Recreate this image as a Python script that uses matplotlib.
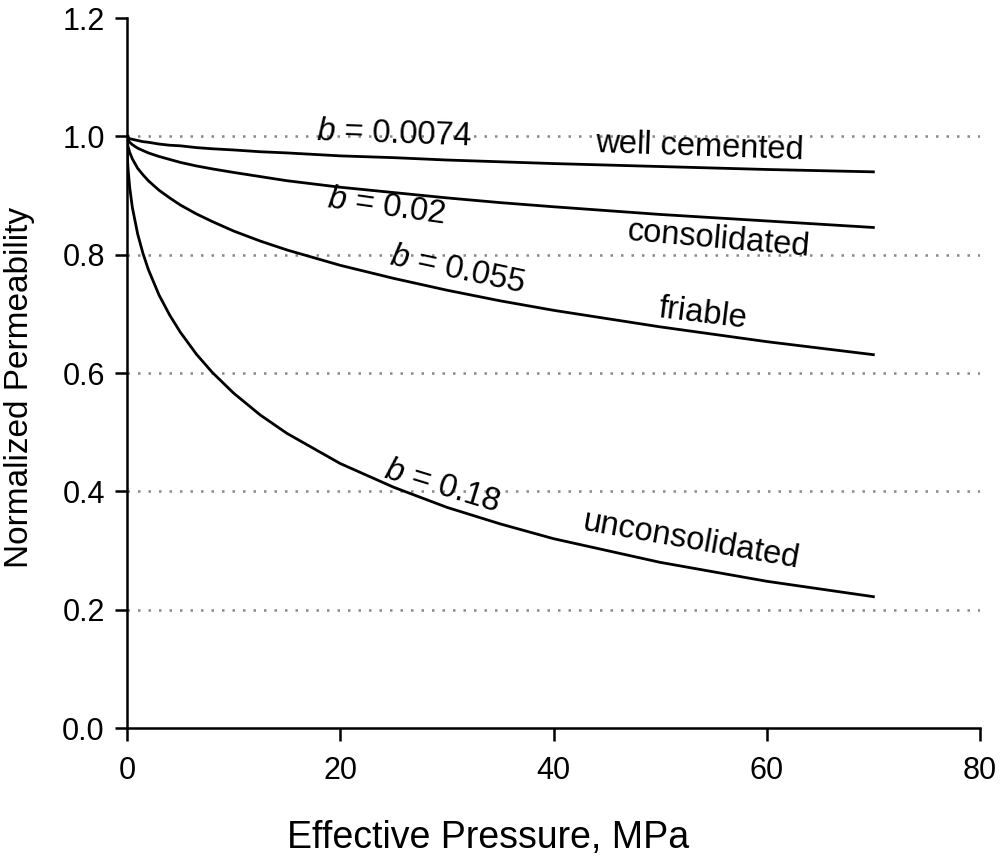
import matplotlib.pyplot as plt
import numpy as np

plt.rcParams['font.family'] = ['Liberation Sans', 'DejaVu Sans']

# effective pressure, MPa
pressure = [0, 0.05, 0.1, 0.25, 0.5, 1, 1.5, 2, 3, 4, 5, 6.5, 8, 10, 12.5,
            15, 20, 25, 30, 35, 40, 50, 60, 70]

# normalized permeability
well_cemented = [1.0, 0.998, 0.998, 0.996, 0.995, 0.993, 0.991, 0.990, 0.987,
                 0.985, 0.984, 0.981, 0.979, 0.977, 0.974, 0.972, 0.967, 0.964,
                 0.960, 0.957, 0.954, 0.949, 0.944, 0.940]
consolidated = [1.0, 0.996, 0.994, 0.990, 0.986, 0.980, 0.976, 0.972, 0.966,
                0.961, 0.956, 0.950, 0.945, 0.939, 0.932, 0.925, 0.914, 0.905,
                0.896, 0.888, 0.881, 0.868, 0.857, 0.846]
friable = [1.0, 0.988, 0.983, 0.973, 0.962, 0.946, 0.935, 0.925, 0.909, 0.896,
           0.884, 0.869, 0.856, 0.840, 0.823, 0.808, 0.782, 0.760, 0.740,
           0.722, 0.706, 0.678, 0.653, 0.631]
unconsolidated = [1.0, 0.960, 0.945, 0.914, 0.880, 0.835, 0.802, 0.775, 0.732,
                  0.698, 0.669, 0.632, 0.601, 0.566, 0.529, 0.498, 0.447, 0.407,
                  0.373, 0.345, 0.320, 0.280, 0.248, 0.222]

curves = [well_cemented, consolidated, friable, unconsolidated]

# (text, x, y, rotation)
labels = [
    ('$b$ = 0.0074', 25.1, 1.004, -2),
    ('well cemented', 53.7, 0.982, -2),
    ('$b$ = 0.02', 24.3, 0.880, -8),
    ('consolidated', 55.5, 0.825, -5),
    ('$b$ = 0.055', 31.0, 0.774, -12),
    ('friable', 54.0, 0.699, -7),
    ('$b$ = 0.18', 29.6, 0.408, -17),
    ('unconsolidated', 52.9, 0.317, -10),
]

xticks = [0, 20, 40, 60, 80]
yticks = [0.0, 0.2, 0.4, 0.6, 0.8, 1.0, 1.2]
grid_y = [0.2, 0.4, 0.6, 0.8, 1.0]

plt.rcParams['mathtext.fontset'] = 'custom'
plt.rcParams['mathtext.it'] = 'Liberation Sans:italic'
plt.rcParams['mathtext.rm'] = 'Liberation Sans'

fig = plt.figure(figsize=(10, 8.58), dpi=100)
ax = fig.add_axes([0.127, 0.1515, 0.853, 0.8275])

for y in grid_y:
    ax.axhline(y, color='#888888', lw=1.8, ls=(0, (1, 3.2)), zorder=1)

for vals in curves:
    ax.plot(pressure, vals, color='black', lw=2.0, zorder=3)

for text, x, y, rot in labels:
    ax.text(x, y, text, fontsize=23.5, ha='center', va='center',
            rotation=rot, rotation_mode='anchor', zorder=4)

ax.spines['top'].set_visible(False)
ax.spines['right'].set_visible(False)
ax.spines['left'].set_linewidth(1.8)
ax.spines['bottom'].set_linewidth(1.8)
ax.set_xlim(0, 80)
ax.set_ylim(0, 1.2)
ax.set_xticks(xticks)
ax.set_yticks(yticks)
ax.set_yticklabels(['%.1f' % v for v in yticks])
ax.tick_params(axis='both', direction='out', length=9, width=1.8,
               labelsize=22)
ax.tick_params(axis='y', pad=7)
ax.tick_params(axis='x', pad=11)

ax.set_xlabel('Effective Pressure, MPa', fontsize=27)
ax.set_ylabel('Normalized Permeability', fontsize=24)
ax.xaxis.set_label_coords(0.423, -0.13)
ax.yaxis.set_label_coords(-0.108, 0.48)

fig.savefig('out.png', dpi=100)
